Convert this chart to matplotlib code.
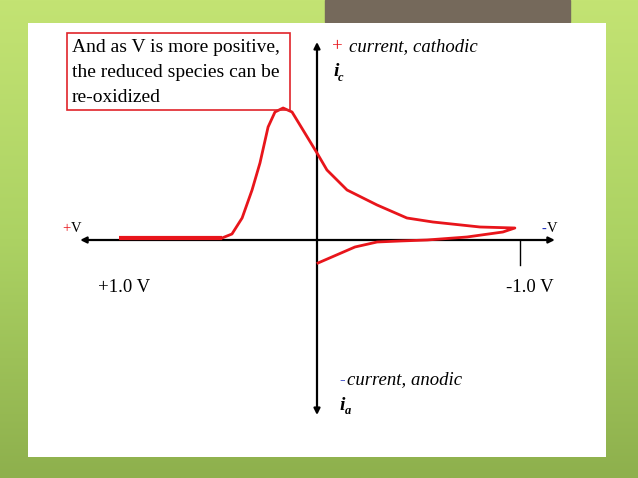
import numpy as np
import matplotlib.pyplot as plt
from matplotlib.patches import Rectangle

# potential (V) and current (arbitrary units)
v_hold = [0.975, 0.468]
i_hold = [0.2, 0.2]

v_scan = [0.468, 0.419, 0.369, 0.320, 0.281, 0.241, 0.207, 0.167, 0.123, 0.069,
          0.0, -0.049, -0.148, -0.296, -0.443, -0.571, -0.803, -0.975,
          -0.916, -0.739, -0.542, -0.409, -0.296, -0.187, -0.005]
i_scan = [0.2, 0.6, 2.2, 5.0, 7.7, 11.3, 12.8, 13.2, 12.8, 11.0,
          8.7, 7.0, 5.0, 3.5, 2.2, 1.8, 1.3, 1.2,
          0.8, 0.3, 0.0, -0.1, -0.2, -0.7, -2.3]

tick_v = [1.0, -1.0]
tick_labels = ['+1.0 V', '-1.0 V']

plt.rcParams['font.family'] = ['Liberation Serif', 'DejaVu Serif']

fig = plt.figure(figsize=(6.38, 4.78), dpi=100)

# slide background
bg = fig.add_axes([0, 0, 1, 1])
grad = np.linspace(0, 1, 256).reshape(-1, 1)
bg.imshow(grad, aspect='auto', extent=[0, 1, 0, 1], origin='upper',
          cmap=plt.matplotlib.colors.LinearSegmentedColormap.from_list(
              'g', ['#c3e373', '#acd263', '#8eb04d']))
bg.add_patch(Rectangle((325 / 638, 1 - 22 / 478), 245 / 638, 22 / 478,
                       color='#75695b', zorder=3))
bg.set_xlim(0, 1)
bg.set_ylim(0, 1)
bg.axis('off')

ax = fig.add_axes([28 / 638, 21 / 478, 578 / 638, 434 / 478])
ax.set_facecolor('white')
ax.set_xlim(1.424, -1.424)
ax.set_ylim(-21.7, 21.7)
ax.set_xticks([])
ax.set_yticks([])
for s in ax.spines.values():
    s.set_visible(False)

# axes with arrows
ax.annotate('', xy=(1.167, 0), xytext=(-1.172, 0),
            arrowprops=dict(arrowstyle='<|-|>', color='black', lw=1.6,
                            mutation_scale=9, shrinkA=0, shrinkB=0))
ax.annotate('', xy=(0, 19.8), xytext=(0, -17.5),
            arrowprops=dict(arrowstyle='<|-|>', color='black', lw=1.6,
                            mutation_scale=9, shrinkA=0, shrinkB=0))
ax.plot([-1.0, -1.0], [0, -2.5], color='black', lw=1)

# voltammogram
ax.plot(v_hold, i_hold, color='#e8151b', lw=3, solid_capstyle='butt', zorder=4)
ax.plot(v_scan, i_scan, color='#e8151b', lw=2, zorder=4)

for v, lab in zip(tick_v, tick_labels):
    ax.text(v - 0.05, -4.7, lab, fontsize=13.5, ha='center', va='center')

ax.text(1.215, 1.1, '+', color='#e8151b', fontsize=10.5, ha='right', va='center')
ax.text(1.215, 1.1, 'V', color='black', fontsize=10.5, ha='left', va='center')
ax.text(-1.13, 1.1, '-', color='#2030c0', fontsize=10.5, ha='right', va='center')
ax.text(-1.13, 1.1, 'V', color='black', fontsize=10.5, ha='left', va='center')

ax.text(-0.075, 19.3, '+', color='#e8151b', fontsize=13.5, ha='left', va='center')
ax.text(-0.158, 19.3, 'current, cathodic', style='italic', fontsize=13.5,
        ha='left', va='center')
ax.text(-0.08, 16.8, 'i', style='italic', weight='bold', fontsize=14,
        ha='left', va='center')
ax.text(-0.105, 16.2, 'c', style='italic', weight='bold', fontsize=9,
        ha='left', va='center')

ax.text(-0.11, -14.0, '-', color='#2030c0', fontsize=12, ha='left', va='center')
ax.text(-0.15, -14.0, 'current, anodic', style='italic', fontsize=13.5,
        ha='left', va='center')
ax.text(-0.11, -16.5, 'i', style='italic', weight='bold', fontsize=14,
        ha='left', va='center')
ax.text(-0.135, -17.1, 'a', style='italic', weight='bold', fontsize=9,
        ha='left', va='center')

# annotation box
ax.add_patch(Rectangle((0.0675, 0.800), 0.3855, 0.177, transform=ax.transAxes,
                       fill=False, edgecolor='#e0242a', lw=1.2, zorder=5))
for k, line in enumerate(['And as V is more positive,',
                          'the reduced species can be',
                          're-oxidized']):
    ax.text(0.076, 0.944 - k * 0.0576, line, transform=ax.transAxes,
            fontsize=14, ha='left', va='center')

fig.savefig('out.png', dpi=100)
